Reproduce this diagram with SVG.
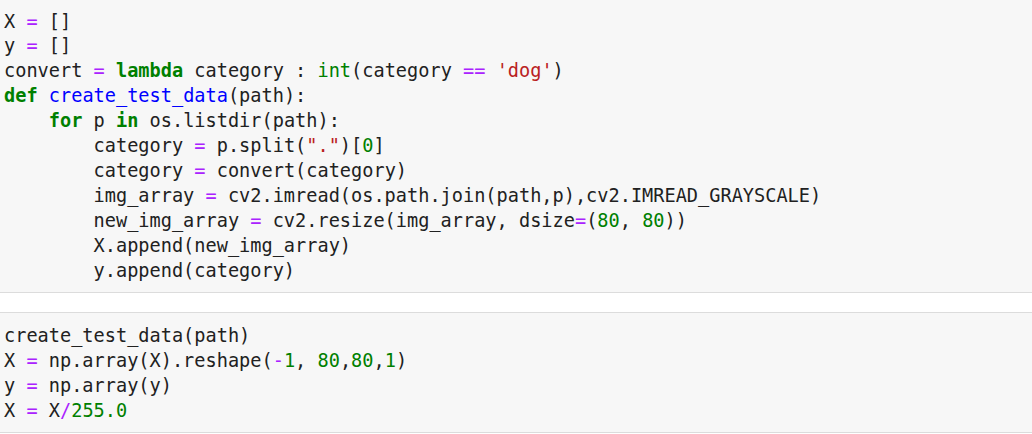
<svg xmlns="http://www.w3.org/2000/svg" width="1032" height="434" viewBox="0 0 1032 434">
<style>
text{font-family:"DejaVu Sans Mono","Liberation Mono",monospace;font-size:18.6px;fill:#212121;white-space:pre}
.k{fill:#008000;font-weight:bold}.o{fill:#AA22FF}.f{fill:#0000FF}.s{fill:#BA2121}.n{fill:#008000}
</style>
<rect width="1032" height="434" fill="#fff"/>
<g id="cell1">
<rect x="0" y="0" width="1032" height="292" fill="#f7f7f7"/>
<line x1="0" y1="292.5" x2="1032" y2="292.5" stroke="#dcdcdc"/>
<text x="4" y="27.5">X <tspan class="o">=</tspan> []</text>
<text x="4" y="52.4">y <tspan class="o">=</tspan> []</text>
<text x="4" y="77.3">convert <tspan class="o">=</tspan> <tspan class="k">lambda</tspan> category : <tspan class="n">int</tspan>(category <tspan class="o">==</tspan> <tspan class="s">'dog'</tspan>)</text>
<text x="4" y="102.2"><tspan class="k">def</tspan> <tspan class="f">create_test_data</tspan>(path):</text>
<text x="4" y="127.1">    <tspan class="k">for</tspan> p <tspan class="k">in</tspan> os.listdir(path):</text>
<text x="4" y="152">        category <tspan class="o">=</tspan> p.split(<tspan class="s">"."</tspan>)[<tspan class="n">0</tspan>]</text>
<text x="4" y="176.9">        category <tspan class="o">=</tspan> convert(category)</text>
<text x="4" y="201.8">        img_array <tspan class="o">=</tspan> cv2.imread(os.path.join(path,p),cv2.IMREAD_GRAYSCALE)</text>
<text x="4" y="226.7">        new_img_array <tspan class="o">=</tspan> cv2.resize(img_array, dsize<tspan class="o">=</tspan>(<tspan class="n">80</tspan>, <tspan class="n">80</tspan>))</text>
<text x="4" y="251.6">        X.append(new_img_array)</text>
<text x="4" y="276.5">        y.append(category)</text>
</g>
<g id="cell2">
<rect x="0" y="312" width="1032" height="120" fill="#f7f7f7"/>
<line x1="0" y1="312.5" x2="1032" y2="312.5" stroke="#dcdcdc"/>
<line x1="0" y1="432.5" x2="1032" y2="432.5" stroke="#dcdcdc"/>
<text x="4" y="342">create_test_data(path)</text>
<text x="4" y="367">X <tspan class="o">=</tspan> np.array(X).reshape(<tspan class="o">-</tspan><tspan class="n">1</tspan>, <tspan class="n">80</tspan>,<tspan class="n">80</tspan>,<tspan class="n">1</tspan>)</text>
<text x="4" y="392">y <tspan class="o">=</tspan> np.array(y)</text>
<text x="4" y="417">X <tspan class="o">=</tspan> X<tspan class="o">/</tspan><tspan class="n">255.0</tspan></text>
</g>
</svg>
